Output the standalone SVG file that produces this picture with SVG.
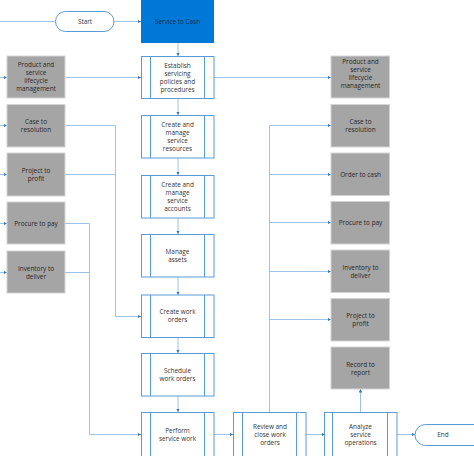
<svg xmlns="http://www.w3.org/2000/svg" width="474" height="456" viewBox="0 0 474 456">
<style>
text{font-family:"Open Sans","Noto Sans",sans-serif;font-size:6.4px;fill:#333;text-anchor:middle}
.proc rect{fill:#fff;stroke:#5b9bd5;stroke-width:1}
.proc line{stroke:#5b9bd5;stroke-width:1}
.ext rect{fill:#a5a5a5;stroke:#d4d4d4;stroke-width:1}
.ext text{fill:#262626}
.term rect{fill:#fff;stroke:#5b9bd5;stroke-width:1}
#connectors path{fill:none;stroke:#9dc3e6;stroke-width:1}
</style>
<defs>
<marker id="ah" viewBox="0 0 6 6" refX="6" refY="3" markerWidth="3.5" markerHeight="3.5" orient="auto" markerUnits="userSpaceOnUse">
<path d="M0 0L6 3L0 6z" fill="#2e75b6"/>
</marker>
</defs>
<g id="connectors">
<path d="M0 21.5H55.5"/>
<path d="M114 21.5H141" marker-end="url(#ah)"/>
<path d="M178 43V56" marker-end="url(#ah)"/>
<path d="M65 77.5H141" marker-end="url(#ah)"/>
<path d="M214 77.5H331" marker-end="url(#ah)"/>
<path d="M178 98V115" marker-end="url(#ah)"/>
<path d="M178 158V175" marker-end="url(#ah)"/>
<path d="M178 218V234" marker-end="url(#ah)"/>
<path d="M178 277V295" marker-end="url(#ah)"/>
<path d="M178 337V353" marker-end="url(#ah)"/>
<path d="M178 396V412" marker-end="url(#ah)"/>
<path d="M65 125.5H115.5V316.5H141" marker-end="url(#ah)"/>
<path d="M65 174.5H115.5"/>
<path d="M65 223.5H89.5V434.5H141" marker-end="url(#ah)"/>
<path d="M65 272.5H89.5"/>
<path d="M214 434.5H233" marker-end="url(#ah)"/>
<path d="M269.5 412V125.5H331" marker-end="url(#ah)"/>
<path d="M269.5 174.5H331" marker-end="url(#ah)"/>
<path d="M269.5 222.5H331" marker-end="url(#ah)"/>
<path d="M269.5 271.5H331" marker-end="url(#ah)"/>
<path d="M269.5 319.5H331" marker-end="url(#ah)"/>
<path d="M306 434.5H325" marker-end="url(#ah)"/>
<path d="M360.5 412V389" marker-end="url(#ah)"/>
<path d="M397 434.5H415" marker-end="url(#ah)"/>
<path d="M0 77.5H7" marker-end="url(#ah)"/>
<path d="M0 125.5H7" marker-end="url(#ah)"/>
<path d="M0 174.5H7" marker-end="url(#ah)"/>
<path d="M0 223.5H7" marker-end="url(#ah)"/>
<path d="M0 272.5H7" marker-end="url(#ah)"/>
</g>
<g id="start" class="term"><rect x="55.5" y="11.5" width="58.5" height="20" rx="10"/><text x="85" y="23.7">Start</text></g>
<g id="service-to-cash"><rect x="141" y="0" width="73" height="43" fill="#0078d7"/><text x="177.5" y="23.7" style="fill:#1a2a4a">Service to Cash</text></g>
<g id="establish" class="proc"><rect x="141.5" y="56.5" width="72.5" height="42"/><line x1="150.5" y1="56.5" x2="150.5" y2="98.5"/><line x1="204.5" y1="56.5" x2="204.5" y2="98.5"/>
<text x="177.5" y="67.5">Establish</text><text x="177.5" y="75.5">servicing</text><text x="177.5" y="83.5">policies and</text><text x="177.5" y="91.5">procedures</text></g>
<g id="resources" class="proc"><rect x="141.5" y="115.5" width="72.5" height="42.5"/><line x1="150.5" y1="115.5" x2="150.5" y2="158"/><line x1="204.5" y1="115.5" x2="204.5" y2="158"/>
<text x="177.5" y="127">Create and</text><text x="177.5" y="135">manage</text><text x="177.5" y="143">service</text><text x="177.5" y="151">resources</text></g>
<g id="accounts" class="proc"><rect x="141.5" y="175.5" width="72.5" height="42.5"/><line x1="150.5" y1="175.5" x2="150.5" y2="218"/><line x1="204.5" y1="175.5" x2="204.5" y2="218"/>
<text x="177.5" y="186.5">Create and</text><text x="177.5" y="194.5">manage</text><text x="177.5" y="202.5">service</text><text x="177.5" y="210.5">accounts</text></g>
<g id="assets" class="proc"><rect x="141.5" y="234.5" width="72.5" height="42.5"/><line x1="150.5" y1="234.5" x2="150.5" y2="277"/><line x1="204.5" y1="234.5" x2="204.5" y2="277"/>
<text x="177.5" y="254">Manage</text><text x="177.5" y="262">assets</text></g>
<g id="work-orders" class="proc"><rect x="141.5" y="295" width="72.5" height="42.5"/><line x1="150.5" y1="295" x2="150.5" y2="337.5"/><line x1="204.5" y1="295" x2="204.5" y2="337.5"/>
<text x="177.5" y="314">Create work</text><text x="177.5" y="322">orders</text></g>
<g id="schedule" class="proc"><rect x="141.5" y="353.5" width="72.5" height="42.5"/><line x1="150.5" y1="353.5" x2="150.5" y2="396"/><line x1="204.5" y1="353.5" x2="204.5" y2="396"/>
<text x="177.5" y="372.5">Schedule</text><text x="177.5" y="380.5">work orders</text></g>
<g id="perform" class="proc"><rect x="141.5" y="412.5" width="72.5" height="46"/><line x1="150.5" y1="412.5" x2="150.5" y2="458"/><line x1="204.5" y1="412.5" x2="204.5" y2="458"/>
<text x="177.5" y="433">Perform</text><text x="177.5" y="441">service work</text></g>
<g id="review" class="proc"><rect x="233.5" y="412.5" width="72.5" height="46"/><line x1="242.5" y1="412.5" x2="242.5" y2="458"/><line x1="296.5" y1="412.5" x2="296.5" y2="458"/>
<text x="270" y="429">Review and</text><text x="270" y="437">close work</text><text x="270" y="445">orders</text></g>
<g id="analyze" class="proc"><rect x="324.5" y="412.5" width="72.5" height="46"/><line x1="332.5" y1="412.5" x2="332.5" y2="458"/><line x1="387.5" y1="412.5" x2="387.5" y2="458"/>
<text x="360.5" y="429">Analyze</text><text x="360.5" y="437">service</text><text x="360.5" y="445">operations</text></g>
<g id="end" class="term"><rect x="415" y="424.5" width="70" height="21" rx="10.5"/><text x="443" y="437">End</text></g>
<g id="l-product" class="ext"><rect x="7" y="56" width="58" height="42"/><text x="36" y="67">Product and</text><text x="36" y="75">service</text><text x="36" y="83">lifecycle</text><text x="36" y="91">management</text></g>
<g id="l-case" class="ext"><rect x="7" y="104.5" width="58" height="42.5"/><text x="36" y="124">Case to</text><text x="36" y="132">resolution</text></g>
<g id="l-project" class="ext"><rect x="7" y="153" width="58" height="43"/><text x="36" y="173">Project to</text><text x="36" y="181">profit</text></g>
<g id="l-procure" class="ext"><rect x="7" y="202" width="58" height="42"/><text x="36" y="225.5">Procure to pay</text></g>
<g id="l-inventory" class="ext"><rect x="7" y="251" width="58" height="42"/><text x="36" y="270.5">Inventory to</text><text x="36" y="278.5">deliver</text></g>
<g id="r-product" class="ext"><rect x="331" y="56" width="58.5" height="42"/><text x="360.5" y="63.5">Product and</text><text x="360.5" y="71.5">service</text><text x="360.5" y="79.5">lifecycle</text><text x="360.5" y="87.5">management</text></g>
<g id="r-case" class="ext"><rect x="331" y="104.5" width="58.5" height="42.5"/><text x="360.5" y="124">Case to</text><text x="360.5" y="132">resolution</text></g>
<g id="r-order" class="ext"><rect x="331" y="153" width="58.5" height="42.5"/><text x="360.5" y="176.5">Order to cash</text></g>
<g id="r-procure" class="ext"><rect x="331" y="201.5" width="58.5" height="42.5"/><text x="360.5" y="225">Procure to pay</text></g>
<g id="r-inventory" class="ext"><rect x="331" y="250" width="58.5" height="42.5"/><text x="360.5" y="269.5">Inventory to</text><text x="360.5" y="277.5">deliver</text></g>
<g id="r-project" class="ext"><rect x="331" y="298.5" width="58.5" height="42.5"/><text x="360.5" y="318">Project to</text><text x="360.5" y="326">profit</text></g>
<g id="r-record" class="ext"><rect x="331" y="347" width="58.5" height="42"/><text x="360.5" y="366.5">Record to</text><text x="360.5" y="374.5">report</text></g>
</svg>
